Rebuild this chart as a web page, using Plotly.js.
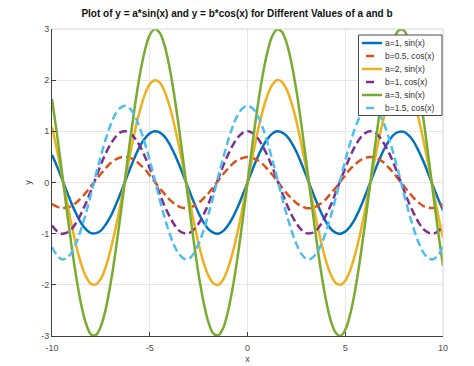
<!DOCTYPE html>
<html><head><meta charset="utf-8">
<script src="https://cdn.plot.ly/plotly-3.0.1.min.js"></script>
<style>html,body{margin:0;padding:0;background:#fff}#chart{width:474px;height:366px}</style>
</head><body><div id="chart"></div>
<script>
const xVals = [-10,-9.75,-9.5,-9.25,-9,-8.75,-8.5,-8.25,-8,-7.75,-7.5,-7.25,-7,-6.75,-6.5,-6.25,-6,-5.75,-5.5,-5.25,-5,-4.75,-4.5,-4.25,-4,-3.75,-3.5,-3.25,-3,-2.75,-2.5,-2.25,-2,-1.75,-1.5,-1.25,-1,-0.75,-0.5,-0.25,0,0.25,0.5,0.75,1,1.25,1.5,1.75,2,2.25,2.5,2.75,3,3.25,3.5,3.75,4,4.25,4.5,4.75,5,5.25,5.5,5.75,6,6.25,6.5,6.75,7,7.25,7.5,7.75,8,8.25,8.5,8.75,9,9.25,9.5,9.75,10];
const sinA1 = [0.54,0.32,0.08,-0.17,-0.41,-0.62,-0.80,-0.92,-0.99,-0.99,-0.94,-0.82,-0.66,-0.45,-0.22,0.03,0.28,0.51,0.71,0.86,0.96,1.00,0.98,0.90,0.76,0.57,0.35,0.11,-0.14,-0.38,-0.60,-0.78,-0.91,-0.98,-1.00,-0.95,-0.84,-0.68,-0.48,-0.25,0,0.25,0.48,0.68,0.84,0.95,1.00,0.98,0.91,0.78,0.60,0.38,0.14,-0.11,-0.35,-0.57,-0.76,-0.90,-0.98,-1.00,-0.96,-0.86,-0.71,-0.51,-0.28,-0.03,0.22,0.45,0.66,0.82,0.94,0.99,0.99,0.92,0.80,0.62,0.41,0.17,-0.08,-0.32,-0.54];
const cosB05 = [-0.42,-0.47,-0.50,-0.49,-0.46,-0.39,-0.30,-0.19,-0.07,0.05,0.17,0.28,0.38,0.45,0.49,0.50,0.48,0.43,0.35,0.26,0.14,0.02,-0.11,-0.22,-0.33,-0.41,-0.47,-0.50,-0.50,-0.46,-0.40,-0.31,-0.21,-0.09,0.04,0.16,0.27,0.37,0.44,0.48,0.50,0.48,0.44,0.37,0.27,0.16,0.04,-0.09,-0.21,-0.31,-0.40,-0.46,-0.50,-0.50,-0.47,-0.41,-0.33,-0.22,-0.11,0.02,0.14,0.26,0.35,0.43,0.48,0.50,0.49,0.45,0.38,0.28,0.17,0.05,-0.07,-0.19,-0.30,-0.39,-0.46,-0.49,-0.50,-0.47,-0.42];
const sinA2 = [1.09,0.64,0.15,-0.35,-0.82,-1.25,-1.60,-1.85,-1.98,-1.99,-1.88,-1.65,-1.31,-0.90,-0.43,0.07,0.56,1.02,1.41,1.72,1.92,2.00,1.96,1.79,1.51,1.14,0.70,0.22,-0.28,-0.76,-1.20,-1.56,-1.82,-1.97,-2.00,-1.90,-1.68,-1.36,-0.96,-0.49,0,0.49,0.96,1.36,1.68,1.90,2.00,1.97,1.82,1.56,1.20,0.76,0.28,-0.22,-0.70,-1.14,-1.51,-1.79,-1.96,-2.00,-1.92,-1.72,-1.41,-1.02,-0.56,-0.07,0.43,0.90,1.31,1.65,1.88,1.99,1.98,1.85,1.60,1.25,0.82,0.35,-0.15,-0.64,-1.09];
const cosB1 = [-0.84,-0.95,-1.00,-0.98,-0.91,-0.78,-0.60,-0.39,-0.15,0.10,0.35,0.57,0.75,0.89,0.98,1.00,0.96,0.86,0.71,0.51,0.28,0.04,-0.21,-0.45,-0.65,-0.82,-0.94,-0.99,-0.99,-0.92,-0.80,-0.63,-0.42,-0.18,0.07,0.32,0.54,0.73,0.88,0.97,1.00,0.97,0.88,0.73,0.54,0.32,0.07,-0.18,-0.42,-0.63,-0.80,-0.92,-0.99,-0.99,-0.94,-0.82,-0.65,-0.45,-0.21,0.04,0.28,0.51,0.71,0.86,0.96,1.00,0.98,0.89,0.75,0.57,0.35,0.10,-0.15,-0.39,-0.60,-0.78,-0.91,-0.98,-1.00,-0.95,-0.84];
const sinA3 = [1.63,0.96,0.23,-0.52,-1.24,-1.87,-2.40,-2.77,-2.97,-2.98,-2.81,-2.47,-1.97,-1.35,-0.65,0.10,0.84,1.52,2.12,2.58,2.88,3.00,2.93,2.69,2.27,1.71,1.05,0.32,-0.42,-1.15,-1.80,-2.33,-2.73,-2.95,-2.99,-2.85,-2.52,-2.04,-1.44,-0.74,0,0.74,1.44,2.04,2.52,2.85,2.99,2.95,2.73,2.33,1.80,1.15,0.42,-0.32,-1.05,-1.71,-2.27,-2.69,-2.93,-3.00,-2.88,-2.58,-2.12,-1.52,-0.84,-0.10,0.65,1.35,1.97,2.47,2.81,2.98,2.97,2.77,2.40,1.87,1.24,0.52,-0.23,-0.96,-1.63];
const cosB15 = [-1.26,-1.42,-1.50,-1.48,-1.37,-1.17,-0.90,-0.58,-0.22,0.16,0.52,0.85,1.13,1.34,1.46,1.50,1.44,1.29,1.06,0.77,0.43,0.06,-0.32,-0.67,-0.98,-1.23,-1.40,-1.49,-1.49,-1.39,-1.20,-0.94,-0.62,-0.27,0.11,0.47,0.81,1.10,1.32,1.45,1.50,1.45,1.32,1.10,0.81,0.47,0.11,-0.27,-0.62,-0.94,-1.20,-1.39,-1.49,-1.49,-1.40,-1.23,-0.98,-0.67,-0.32,0.06,0.43,0.77,1.06,1.29,1.44,1.50,1.46,1.34,1.13,0.85,0.52,0.16,-0.22,-0.58,-0.90,-1.17,-1.37,-1.48,-1.50,-1.42,-1.26];
const seriesNames = ['a=1, sin(x)','b=0.5, cos(x)','a=2, sin(x)','b=1, cos(x)','a=3, sin(x)','b=1.5, cos(x)'];
const seriesData = [sinA1, cosB05, sinA2, cosB1, sinA3, cosB15];
const colors = ['#0072BD','#D95319','#EDB120','#7E2F8E','#77AC30','#4DBEEE'];
const dashed = [false,true,false,true,false,true];
const xTicks = [-10,-5,0,5,10];
const yTicks = [-3,-2,-1,0,1,2,3];

const traces = seriesData.map((ys,i)=>({
  x: xVals, y: ys, type:'scatter', mode:'lines', name: seriesNames[i], showlegend:false,
  line:{color:colors[i], width:2.5, dash: dashed[i] ? '8px,4px' : 'solid', shape:'spline', smoothing:1}
}));

// plot-area geometry in pixels (for hand-drawn legend placement)
const L = 52, R = 443, T = 29, B = 336;
const px = x => (x - L) / (R - L);
const py = y => (B - y) / (B - T);

const shapes = [
  {type:'line', xref:'paper', yref:'paper', x0:0, x1:1, y0:1, y1:1, line:{color:'#d4d4d4', width:1}},
  {type:'line', xref:'paper', yref:'paper', x0:1, x1:1, y0:0, y1:1, line:{color:'#d4d4d4', width:1}},
  {type:'rect', xref:'paper', yref:'paper', x0:px(358.5), x1:px(442), y0:py(35), y1:py(115.5), fillcolor:'#fff', line:{color:'#4a4a4a', width:1}}
];
const annotations = [];
seriesNames.forEach((nm,i)=>{
  const yy = 43 + 13 * i;
  const x0 = dashed[i] ? 366 : 362, x1 = dashed[i] ? 374 : 382;
  shapes.push({type:'line', xref:'paper', yref:'paper', x0:px(x0), x1:px(x1), y0:py(yy), y1:py(yy), line:{color:colors[i], width:2.5}});
  annotations.push({xref:'paper', yref:'paper', x:px(384), y:py(yy), xanchor:'left', yanchor:'middle', showarrow:false,
    text:nm, font:{family:'Liberation Sans, Arial, sans-serif', size:8.5, color:'#333'}, borderpad:0});
});

const layout = {
  width:474, height:366,
  margin:{l:L, r:474-R, t:T, b:366-B},
  paper_bgcolor:'#fff', plot_bgcolor:'#fff',
  font:{family:'Liberation Sans, Arial, sans-serif', size:9, color:'#4d4d4d'},
  title:{text:'<b>Plot of y = a*sin(x) and y = b*cos(x) for Different Values of a and b</b>', font:{family:'Liberation Sans, Arial, sans-serif', size:10, color:'#111'}, x:0.5, xanchor:'center', y:0.963, yanchor:'middle'},
  xaxis:{range:[-10,10], tickvals:xTicks, ticktext:xTicks.map(String), showgrid:true, gridcolor:'#e6e6e6', gridwidth:1,
    zeroline:false, showline:true, linecolor:'#404040', linewidth:1, ticks:'inside', ticklen:4, tickcolor:'#404040', ticklabelstandoff:3,
    title:{text:'x', font:{size:9, color:'#404040'}, standoff:3}, tickfont:{size:9,color:'#4d4d4d'}},
  yaxis:{range:[-3,3], tickvals:yTicks, ticktext:yTicks.map(String), showgrid:true, gridcolor:'#e6e6e6', gridwidth:1,
    zeroline:false, showline:true, linecolor:'#404040', linewidth:1, ticks:'inside', ticklen:4, tickcolor:'#404040',
    title:{text:'y', font:{size:9, color:'#404040'}, standoff:8}, tickfont:{size:9,color:'#4d4d4d'}},
  showlegend:false,
  shapes: shapes,
  annotations: annotations
};
Plotly.newPlot('chart', traces, layout, {displayModeBar:false, staticPlot:true});
</script></body></html>
